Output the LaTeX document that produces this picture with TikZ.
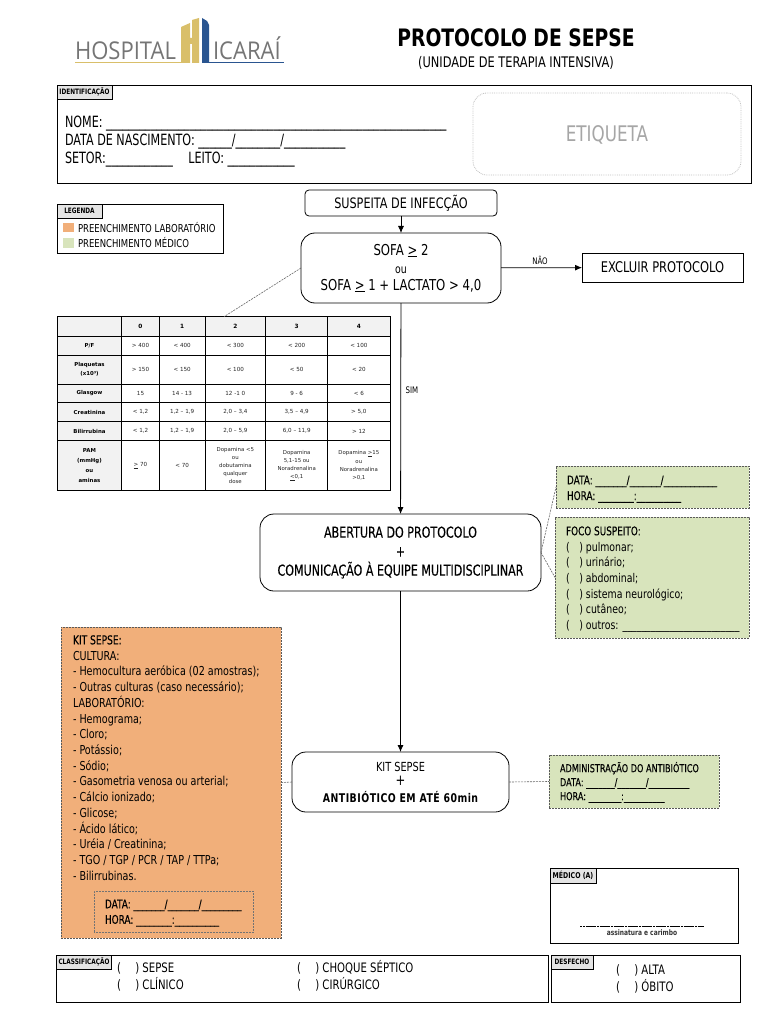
\documentclass[tikz,border=0pt]{standalone}
\usepackage{fontspec}
\setmainfont{DejaVu Sans}[FakeStretch=0.78]
\newfontfamily\logofont{Open Sans}[FakeStretch=0.9]
\newfontfamily\narrowfont{DejaVu Sans}[FakeStretch=0.72]
\newfontfamily\tabfont{DejaVu Sans}
\newfontfamily\medfont{DejaVu Sans}[FakeStretch=0.74,FakeBold=0.2]
\usetikzlibrary{arrows.meta}
\definecolor{labgray}{HTML}{E4E4E4}
\definecolor{tabgray}{HTML}{F2F2F2}
\definecolor{orangefill}{HTML}{F1AF7A}
\definecolor{greenfill}{HTML}{D8E4BC}
\definecolor{logogold}{HTML}{D9BF6A}
\definecolor{logoblue}{HTML}{2A5590}
\definecolor{logogray}{HTML}{757575}
\newcommand\fs[2]{\fontsize{#1}{#2}\selectfont}
\newcommand\ts{\rule{0pt}{1.2em}}
\newcount\uscnt
\newcommand\us[1]{\uscnt=#1\relax\loop\ifnum\uscnt>0 \_\advance\uscnt by -1 \repeat}
\newcommand\tcell[5]{%
  \pgfmathsetmacro\xa{{57.3,121.7,159.3,205,265.7,327.7,390}[#1]}%
  \pgfmathsetmacro\xb{{57.3,121.7,159.3,205,265.7,327.7,390}[#1+1]}%
  \pgfmathsetmacro\ya{{316.7,336,355,384,402.7,421.7,440.7,490}[#2]}%
  \pgfmathsetmacro\yb{{316.7,336,355,384,402.7,421.7,440.7,490}[#2+1]}%
  \pgfmathsetmacro\cw{\xb-\xa}\pgfmathsetmacro\ch{\yb-\ya}%
  \node (cell-#2-#1) [tabcell,fill=#3,minimum width=\cw pt,minimum height=\ch pt,font=#4] at ({(\xa+\xb)/2},{(\ya+\yb)/2}) {#5};%
}
\newcommand\hh{\tabfont\fs{5.8}{7.5}\bfseries}
\newcommand\rh{\tabfont\fs{5.4}{8.5}\bfseries}
\newcommand\vv{\tabfont\fs{5.6}{7.5}\color{black!85}}
\newcommand\vm{\tabfont\fs{5.4}{8.1}\color{black!85}}
\tikzset{
  frame/.style={draw=black,line width=0.8pt,inner sep=0pt,outer sep=0pt,anchor=north west},
  rframe/.style={frame,rounded corners=14pt},
  tab/.style={draw=black,line width=0.7pt,fill=labgray,inner sep=0pt,outer sep=0pt,anchor=north west},
  tabcell/.style={draw=black,line width=0.7pt,inner sep=0pt,outer sep=0pt,align=center},
  gbox/.style={frame,draw=black!65,line width=0.6pt,dashed,dash pattern=on 2pt off 1pt,fill=greenfill},
  txt/.style={inner sep=0pt,outer sep=0pt,anchor=north west,align=left},
  ctxt/.style={inner sep=0pt,outer sep=0pt,align=center},
  arrow/.style={draw=black,line width=0.8pt,-{Latex[length=7pt,width=6pt]}},
  link/.style={draw=black!60,line width=0.6pt,dashed,dash pattern=on 2pt off 1pt},
}
\begin{document}
\begin{tikzpicture}[x=1pt,y=-1pt]
\useasboundingbox (0,0) rectangle (768,1024);
% logo
\fill[logogold] (75,62) rectangle (186,63.2);
\fill[logoblue] (205,62) rectangle (284,63.2);
\fill[logogold] (181,27) -- (190,23) -- (190,38) -- (192,38) -- (192,20) -- (199,18) -- (199,63) -- (192,63) -- (192,44) -- (190,44) -- (190,63) -- (181,63) -- cycle;
\fill[logoblue] (202,18) -- (207,21) -- (209,25) -- (209,63) -- (202,63) -- cycle;
\node (hosp) [ctxt,anchor=base west,text=logogray,font=\logofont\fs{24.5}{26}] at (75,60) {HOSPITAL};
\node (icar) [ctxt,anchor=base west,text=logogray,font=\logofont\fs{24.5}{26}] at (213,60) {ICARAÍ};
% title
\node (title) [ctxt,font=\fs{24}{26}\bfseries] at (516,38) {PROTOCOLO DE SEPSE};
\node (subt) [ctxt,font=\fs{14.6}{16}] at (516,63) {(UNIDADE DE TERAPIA INTENSIVA)};
% identification
\node (idbox) [frame,minimum width=694pt,minimum height=98pt] at (57,85) {};
\node (idlab) [tab,minimum width=55pt,minimum height=14pt,font=\fs{7.4}{8}\bfseries] at (57,85) {IDENTIFICAÇÃO};
\node (idtxt) [txt,font=\narrowfont\fs{15.5}{17.8}] at (65,108.9) {\ts NOME: \us{61}\\DATA DE NASCIMENTO: \us{6}/\us{8}/\us{11}\\SETOR:\us{12}\hspace{1em}LEITO: \us{12}};
\node (etq) [frame,draw=black!25,densely dotted,rounded corners=14pt,minimum width=268pt,minimum height=82pt] at (473,93) {};
\node (etqt) [ctxt,text=black!35,font=\fs{21.5}{24},yshift=-1pt] at (etq.center) {ETIQUETA};
% legend
\node (legbox) [frame,minimum width=166pt,minimum height=49pt] at (57,204) {};
\node (leglab) [tab,minimum width=45pt,minimum height=14pt,font=\fs{7.4}{8}\bfseries] at (57,204) {LEGENDA};
\node (sw1) [inner sep=0pt,outer sep=0pt,anchor=north west,fill=orangefill,minimum width=11pt,minimum height=9.5pt] at (63,223) {};
\node (sw2) [inner sep=0pt,outer sep=0pt,anchor=north west,fill=greenfill,minimum width=11pt,minimum height=9.5pt] at (63,238) {};
\node (leg1) [ctxt,anchor=west,font=\fs{10.9}{12}] at (78,228) {PREENCHIMENTO LABORATÓRIO};
\node (leg2) [ctxt,anchor=west,font=\fs{10.9}{12}] at (78,243) {PREENCHIMENTO MÉDICO};
% flow
\node (sus) [frame,rounded corners=4pt,minimum width=192pt,minimum height=26pt,font=\fs{14.4}{16}] at (305,190) {SUSPEITA DE INFECÇÃO};
\node (sofa) [rframe,minimum width=200pt,minimum height=70pt,align=center] at (301,233) {\fs{15}{16}SOFA \underline{>} 2\\[6pt]\fs{12}{13}ou\\[5pt]\fs{15}{16}SOFA \underline{>} 1 + LACTATO > 4,0};
\node (excl) [frame,minimum width=161pt,minimum height=29pt,font=\fs{14.7}{16}] at (582,253) {EXCLUIR PROTOCOLO};
\node (nao) [ctxt,font=\fs{9}{10}] at (540,260) {NÃO};
\node (sim) [ctxt,font=\fs{9}{10}] at (412,390) {SIM};
\node (abert) [rframe,minimum width=281pt,minimum height=77pt,align=center,font=\medfont\fs{15}{19}] at (260,514) {ABERTURA DO PROTOCOLO\\+\\COMUNICAÇÃO À EQUIPE MULTIDISCIPLINAR};
\node (kitb) [rframe,minimum width=217pt,minimum height=60pt,align=center] at (292,752) {\fs{12.5}{16}KIT SEPSE\\[2pt]\fs{15}{16}+\\[5pt]\fs{12}{16}\bfseries\addfontfeature{LetterSpace=4}ANTIBIÓTICO EM ATÉ 60min};
% table
\tcell{0}{0}{tabgray}{\hh}{}
\tcell{1}{0}{tabgray}{\hh}{0}
\tcell{2}{0}{tabgray}{\hh}{1}
\tcell{3}{0}{tabgray}{\hh}{2}
\tcell{4}{0}{tabgray}{\hh}{3}
\tcell{5}{0}{tabgray}{\hh}{4}
\tcell{0}{1}{tabgray}{\rh}{P/F}
\tcell{1}{1}{white}{\vv}{> 400}
\tcell{2}{1}{white}{\vv}{< 400}
\tcell{3}{1}{white}{\vv}{< 300}
\tcell{4}{1}{white}{\vv}{< 200}
\tcell{5}{1}{white}{\vv}{< 100}
\tcell{0}{2}{tabgray}{\rh}{Plaquetas\\(x10³)}
\tcell{1}{2}{white}{\vv}{> 150}
\tcell{2}{2}{white}{\vv}{< 150}
\tcell{3}{2}{white}{\vv}{< 100}
\tcell{4}{2}{white}{\vv}{< 50}
\tcell{5}{2}{white}{\vv}{< 20}
\tcell{0}{3}{tabgray}{\rh}{Glasgow}
\tcell{1}{3}{white}{\vv}{15}
\tcell{2}{3}{white}{\vv}{14 - 13}
\tcell{3}{3}{white}{\vv}{12 -1 0}
\tcell{4}{3}{white}{\vv}{9 - 6}
\tcell{5}{3}{white}{\vv}{< 6}
\tcell{0}{4}{tabgray}{\rh}{Creatinina}
\tcell{1}{4}{white}{\vv}{< 1,2}
\tcell{2}{4}{white}{\vv}{1,2 – 1,9}
\tcell{3}{4}{white}{\vv}{2,0 – 3,4}
\tcell{4}{4}{white}{\vv}{3,5 – 4,9}
\tcell{5}{4}{white}{\vv}{> 5,0}
\tcell{0}{5}{tabgray}{\rh}{Bilirrubina}
\tcell{1}{5}{white}{\vv}{< 1,2}
\tcell{2}{5}{white}{\vv}{1,2 – 1,9}
\tcell{3}{5}{white}{\vv}{2,0 – 5,9}
\tcell{4}{5}{white}{\vv}{6,0 – 11,9}
\tcell{5}{5}{white}{\vv}{> 12}
\tcell{0}{6}{tabgray}{\tabfont\fs{5.4}{10}\bfseries}{PAM\\(mmHg)\\ou\\aminas}
\tcell{1}{6}{white}{\vv}{\underline{>} 70}
\tcell{2}{6}{white}{\vv}{< 70}
\tcell{3}{6}{white}{\vm}{Dopamina <5\\ou\\dobutamina\\qualquer\\dose}
\tcell{4}{6}{white}{\vm}{Dopamina\\5,1-15 ou\\Noradrenalina\\\underline{<}0,1}
\tcell{5}{6}{white}{\vm}{Dopamina \underline{>}15\\ou\\Noradrenalina\\>0,1}
\coordinate (tabtop) at (224,316.7);
% green boxes
\node (data) [gbox,minimum width=193pt,minimum height=42pt] at (556,466) {};
\node (datat) [txt,font=\medfont\fs{12}{15.7}] at (567,469.9) {\ts DATA: \us{7}/\us{7}/\us{12}\\HORA: \us{8}:\us{10}};
\node (foco) [gbox,minimum width=194pt,minimum height=121pt] at (555,517) {};
\node (focot) [txt,font=\fs{12}{15.7}] at (566,520.9) {\ts{\medfont FOCO SUSPEITO:}\\(\hspace{0.8em}) pulmonar;\\(\hspace{0.8em}) urinário;\\(\hspace{0.8em}) abdominal;\\(\hspace{0.8em}) sistema neurológico;\\(\hspace{0.8em}) cutâneo;\\(\hspace{0.8em}) outros: \us{25}};
\node (admin) [gbox,minimum width=170pt,minimum height=53pt] at (549,755) {};
\node (admint) [txt,font=\medfont\fs{11}{14}] at (560,759) {\ts ADMINISTRAÇÃO DO ANTIBIÓTICO\\DATA: \us{7}/\us{7}/\us{10}\\HORA: \us{8}:\us{10}};
% kit
\node (kitbox) [gbox,fill=orangefill,minimum width=220pt,minimum height=311pt] at (61,627) {};
\node (kitt) [txt,font=\fs{12.3}{15.73}] at (73,629.6) {\ts{\medfont KIT SEPSE:}\\CULTURA:\\- Hemocultura aeróbica (02 amostras);\\- Outras culturas (caso necessário);\\LABORATÓRIO:\\- Hemograma;\\- Cloro;\\- Potássio;\\- Sódio;\\- Gasometria venosa ou arterial;\\- Cálcio ionizado;\\- Glicose;\\- Ácido lático;\\- Uréia / Creatinina;\\- TGO / TGP / PCR / TAP / TTPa;\\- Bilirrubinas.};
\node (kitin) [frame,draw=black!55,line width=0.5pt,densely dotted,minimum width=159pt,minimum height=41pt] at (94,891) {};
\node (kitd) [txt,font=\medfont\fs{12}{15.5}] at (105,893.9) {\ts DATA: \us{7}/\us{7}/\us{9}\\HORA: \us{8}:\us{10}};
% medico
\node (medbox) [frame,minimum width=188pt,minimum height=75pt] at (550,868) {};
\node (medlab) [tab,minimum width=46pt,minimum height=15pt,font=\fs{8}{9}\bfseries] at (550,868) {MÉDICO (A)};
\coordinate (sigl) at (580,926);
\coordinate (sigr) at (704,926);
\draw[line width=0.7pt,dash pattern=on 2.3pt off 0.5pt] (sigl) -- (sigr);
\node (sigt) [ctxt,font=\fs{7.6}{8}\bfseries,text=black!80] at (642,933) {assinatura e carimbo};
% bottom
\node (clbox) [frame,minimum width=492pt,minimum height=47pt] at (56.5,955) {};
\node (cllab) [tab,minimum width=55pt,minimum height=14pt,font=\fs{7.4}{8}\bfseries] at (56.5,955) {CLASSIFICAÇÃO};
\node (cl1) [txt,font=\fs{13}{17}] at (117,957.1) {\ts(\hspace{1.1em}) SEPSE\\(\hspace{1.1em}) CLÍNICO};
\node (cl2) [txt,font=\fs{13}{17}] at (297,957.1) {\ts(\hspace{1.1em}) CHOQUE SÉPTICO\\(\hspace{1.1em}) CIRÚRGICO};
\node (debox) [frame,minimum width=189pt,minimum height=47pt] at (551,955) {};
\node (delab) [tab,minimum width=42pt,minimum height=14pt,font=\fs{7.4}{8}\bfseries] at (551,955) {DESFECHO};
\node (de1) [txt,font=\fs{13}{17}] at (616,958.4) {\ts(\hspace{1.1em}) ALTA\\(\hspace{1.1em}) ÓBITO};
% connectors
\draw[arrow] (sus) -- (sofa);
\draw[arrow] (sofa) -- (excl);
\draw[arrow] (sofa) -- (abert);
\draw[arrow] (abert) -- (kitb);
\draw[link] (sofa.west) -- (tabtop);
\draw[link] (abert.east) -- (data.west);
\draw[link] (abert.east) -- (foco.west);
\draw[link] (kitbox.east) -- (kitb.west);
\draw[link] (kitb.east) -- (admin.west);
\end{tikzpicture}
\end{document}
